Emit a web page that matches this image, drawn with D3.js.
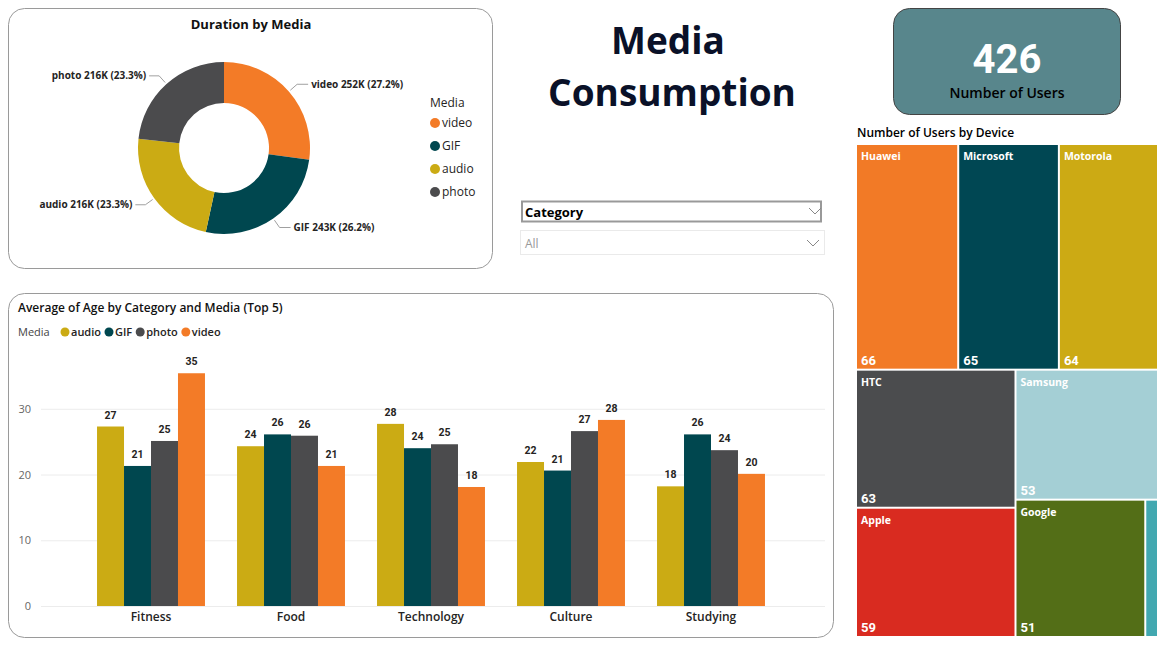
<!DOCTYPE html>
<html>
<head>
<meta charset="utf-8">
<script src="https://cdn.jsdelivr.net/npm/d3@7"></script>
<style>
  body { margin: 0; background: #fff; }
  svg { display: block; }
  text { font-family: "Open Sans", "Noto Sans", sans-serif; }
  .num { font-family: Roboto, "DejaVu Sans", sans-serif; }
</style>
</head>
<body>
<div id="chart"></div>
<script>
// ---- data ----
var mediaNames = ["video", "GIF", "audio", "photo"],
  durationK = [252, 243, 216, 216];

var barMedia = ["audio", "GIF", "photo", "video"],
  categories = ["Fitness", "Food", "Technology", "Culture", "Studying"],
  ageAudio = [27.3, 24.3, 27.7, 21.9, 18.2],
  ageGIF = [21.3, 26.1, 24.0, 20.6, 26.1],
  agePhoto = [25.1, 25.9, 24.6, 26.6, 23.7],
  ageVideo = [35.4, 21.3, 18.1, 28.3, 20.1],
  yTicks = [0, 10, 20, 30];

var devices = ["Huawei", "Microsoft", "Motorola", "HTC", "Apple", "Samsung", "Google", "Other"],
  deviceUsers = [66, 65, 64, 63, 59, 53, 51, 5];

var totalUsers = 426;

var mediaColor = {video: "#F37B27", GIF: "#00474F", audio: "#CBAB14", photo: "#4B4B4D"};
var deviceColor = {
  Huawei: "#F27A26", Microsoft: "#004753", Motorola: "#CCAA14", HTC: "#4B4C4E",
  Apple: "#D92B20", Samsung: "#A4CFD5", Google: "#536E17", Other: "#42A8B0"
};

var width = 1158, height = 645;
var svg = d3.select("#chart").append("svg")
  .attr("width", width)
  .attr("height", height);

// ---- donut card ----
svg.append("rect")
  .attr("x", 8.5).attr("y", 8.5).attr("width", 484).attr("height", 260)
  .attr("rx", 16).attr("fill", "#fff").attr("stroke", "#9a9a9a");

svg.append("text")
  .attr("x", 251).attr("y", 29)
  .attr("text-anchor", "middle")
  .attr("font-size", 13).attr("font-weight", 700).attr("fill", "#111")
  .text("Duration by Media");

var donutData = mediaNames.map((m, i) => ({name: m, value: durationK[i]}));
var total = d3.sum(durationK);
var pie = d3.pie().sort(null).value(d => d.value);
var outerR = 86, innerR = 45;
var arc = d3.arc().innerRadius(innerR).outerRadius(outerR);
var donut = svg.append("g").attr("transform", "translate(224,148)");
var arcs = pie(donutData);

donut.selectAll("path")
  .data(arcs)
  .enter().append("path")
  .attr("d", arc)
  .attr("fill", d => mediaColor[d.data.name]);

arcs.forEach(function (d) {
  var a = (d.startAngle + d.endAngle) / 2;
  var p1 = [Math.sin(a) * (outerR + 2), -Math.cos(a) * (outerR + 2)];
  var p2 = [Math.sin(a) * (outerR + 11), -Math.cos(a) * (outerR + 11)];
  var right = Math.sin(a) > 0;
  var p3 = [p2[0] + (right ? 11 : -10), p2[1]];
  donut.append("polyline")
    .attr("points", [p1, p2, p3].map(p => p.join(",")).join(" "))
    .attr("fill", "none").attr("stroke", "#a0a0a0").attr("stroke-width", 1);
  donut.append("text")
    .attr("x", p3[0] + (right ? 3 : -3)).attr("y", p3[1])
    .attr("dy", "0.35em")
    .attr("text-anchor", right ? "start" : "end")
    .attr("font-size", 10).attr("font-weight", 700).attr("fill", "#252423")
    .text(d.data.name + " " + d.data.value + "K (" + d3.format(".1%")(d.data.value / total) + ")");
});

var dLegend = svg.append("g").attr("transform", "translate(430,0)");
dLegend.append("text").attr("x", 0).attr("y", 107)
  .attr("font-size", 12).attr("fill", "#252423").text("Media");
dLegend.selectAll("g.item")
  .data(mediaNames)
  .enter().append("g").attr("class", "item")
  .attr("transform", (d, i) => `translate(0,${123 + i * 23})`)
  .each(function (d) {
    var g = d3.select(this);
    g.append("circle").attr("cx", 5).attr("cy", 0).attr("r", 5).attr("fill", mediaColor[d]);
    g.append("text").attr("x", 12).attr("y", 0).attr("dy", "0.35em")
      .attr("font-size", 12).attr("fill", "#252423").text(d);
  });

// ---- title ----
svg.append("text")
  .attr("x", 668).attr("y", 54)
  .attr("text-anchor", "middle")
  .attr("font-size", 37).attr("font-weight", 700).attr("fill", "#0A1128")
  .text("Media");
svg.append("text")
  .attr("x", 672).attr("y", 106)
  .attr("text-anchor", "middle")
  .attr("font-size", 37).attr("font-weight", 700).attr("fill", "#0A1128")
  .text("Consumption");

// ---- slicer ----
svg.append("rect")
  .attr("x", 522).attr("y", 201.5).attr("width", 299).attr("height", 20)
  .attr("fill", "#fff").attr("stroke", "#999").attr("stroke-width", 2);
svg.append("text").attr("x", 525).attr("y", 217)
  .attr("font-size", 13).attr("font-weight", 700).attr("fill", "#000").text("Category");
function chevron(cx, cy) {
  svg.append("polyline")
    .attr("points", `${cx - 6},${cy - 3} ${cx},${cy + 3} ${cx + 6},${cy - 3}`)
    .attr("fill", "none").attr("stroke", "#888").attr("stroke-width", 1);
}
chevron(815, 211);
svg.append("rect")
  .attr("x", 520.5).attr("y", 230.5).attr("width", 304).attr("height", 24)
  .attr("fill", "#fff").attr("stroke", "#eaeaea");
svg.append("text").attr("x", 525).attr("y", 248)
  .attr("font-size", 12).attr("fill", "#999").text("All");
chevron(813, 243);

// ---- KPI card ----
svg.append("rect")
  .attr("x", 893.5).attr("y", 8.5).attr("width", 227).attr("height", 106)
  .attr("rx", 16).attr("fill", "#58868C").attr("stroke", "#444");
svg.append("text").attr("class", "num")
  .attr("x", 1007).attr("y", 73)
  .attr("text-anchor", "middle")
  .attr("font-size", 40).attr("font-weight", 700).attr("fill", "#fff")
  .text(totalUsers);
svg.append("text")
  .attr("x", 1007).attr("y", 98)
  .attr("text-anchor", "middle")
  .attr("font-size", 14).attr("font-weight", 600).attr("fill", "#000")
  .text("Number of Users");

// ---- treemap ----
svg.append("text").attr("x", 857).attr("y", 137)
  .attr("font-size", 12).attr("font-weight", 600).attr("fill", "#000")
  .text("Number of Users by Device");

var root = d3.hierarchy({children: devices.map((d, i) => ({name: d, value: deviceUsers[i]}))})
  .sum(d => d.value || 0)
  .sort((a, b) => b.value - a.value);
d3.treemap()
  .tile(d3.treemapSquarify)
  .size([300, 491])
  .paddingInner(2)(root);

var tm = svg.append("g").attr("transform", "translate(857,145)");
var cell = tm.selectAll("g")
  .data(root.leaves())
  .enter().append("g")
  .attr("transform", d => `translate(${d.x0},${d.y0})`);
cell.append("rect")
  .attr("width", d => d.x1 - d.x0)
  .attr("height", d => d.y1 - d.y0)
  .attr("fill", d => deviceColor[d.data.name]);
cell.filter(d => d.x1 - d.x0 > 40).append("text")
  .attr("x", 4).attr("y", 15)
  .attr("font-size", 10.5).attr("font-weight", 700).attr("fill", "#fff")
  .text(d => d.data.name);
cell.filter(d => d.x1 - d.x0 > 40).append("text").attr("class", "num")
  .attr("x", 4).attr("y", d => d.y1 - d.y0 - 4)
  .attr("font-size", 13).attr("font-weight", 700).attr("fill", "#fff")
  .text(d => d.data.value);

// ---- bar chart card ----
svg.append("rect")
  .attr("x", 8.5).attr("y", 293.5).attr("width", 825).attr("height", 344)
  .attr("rx", 16).attr("fill", "#fff").attr("stroke", "#9a9a9a");
svg.append("text").attr("x", 18).attr("y", 312)
  .attr("font-size", 12).attr("font-weight", 600).attr("fill", "#111")
  .text("Average of Age by Category and Media (Top 5)");

var bLegend = svg.append("g").attr("transform", "translate(18,332)");
bLegend.append("text").attr("x", 0).attr("y", 0).attr("dy", "0.35em")
  .attr("font-size", 11).attr("fill", "#444").text("Media");
var lx = 43;
barMedia.forEach(function (m) {
  bLegend.append("circle").attr("cx", lx + 4).attr("cy", 0).attr("r", 4.5).attr("fill", mediaColor[m]);
  var t = bLegend.append("text").attr("x", lx + 10).attr("y", 0).attr("dy", "0.35em")
    .attr("font-size", 11).attr("font-weight", 600).attr("fill", "#252423").text(m);
  lx += 10 + t.node().getComputedTextLength() + 4;
});

var series = {audio: ageAudio, GIF: ageGIF, photo: agePhoto, video: ageVideo};
var y = d3.scaleLinear().domain([0, 40]).range([606, 343]);
var x0 = d3.scaleBand().domain(categories).range([81, 781]).paddingInner(0.229).paddingOuter(0.1145);
var x1 = d3.scaleBand().domain(barMedia).range([0, x0.bandwidth()]);

var plot = svg.append("g");
plot.append("g")
  .attr("transform", "translate(41,0)")
  .call(d3.axisLeft(y).tickValues(yTicks).tickSize(-784).tickFormat(d3.format("d")))
  .call(g => g.select(".domain").remove())
  .call(g => g.selectAll(".tick line").attr("stroke", "#ececec"))
  .call(g => g.selectAll(".tick text").attr("x", -10).attr("fill", "#666")
    .attr("font-size", 11).attr("font-family", "'Open Sans', sans-serif"));

var groups = plot.selectAll("g.cat")
  .data(categories)
  .enter().append("g").attr("class", "cat")
  .attr("transform", d => `translate(${x0(d)},0)`);

groups.selectAll("rect")
  .data((c, ci) => barMedia.map(m => ({media: m, value: series[m][ci]})))
  .enter().append("rect")
  .attr("x", d => x1(d.media))
  .attr("y", d => y(d.value))
  .attr("width", x1.bandwidth())
  .attr("height", d => y(0) - y(d.value))
  .attr("fill", d => mediaColor[d.media]);

groups.selectAll("text.lbl")
  .data((c, ci) => barMedia.map(m => ({media: m, value: series[m][ci]})))
  .enter().append("text").attr("class", "lbl num")
  .attr("x", d => x1(d.media) + x1.bandwidth() / 2)
  .attr("y", d => y(d.value) - 8)
  .attr("text-anchor", "middle")
  .attr("font-size", 10.5).attr("font-weight", 700).attr("fill", "#252423")
  .text(d => Math.round(d.value));

plot.append("g")
  .attr("transform", "translate(0,606)")
  .call(d3.axisBottom(x0).tickSize(0).tickPadding(6))
  .call(g => g.select(".domain").remove())
  .call(g => g.selectAll(".tick text").attr("fill", "#252423")
    .attr("font-size", 12).attr("font-weight", 600).attr("font-family", "'Open Sans', sans-serif"));
</script>
</body>
</html>
